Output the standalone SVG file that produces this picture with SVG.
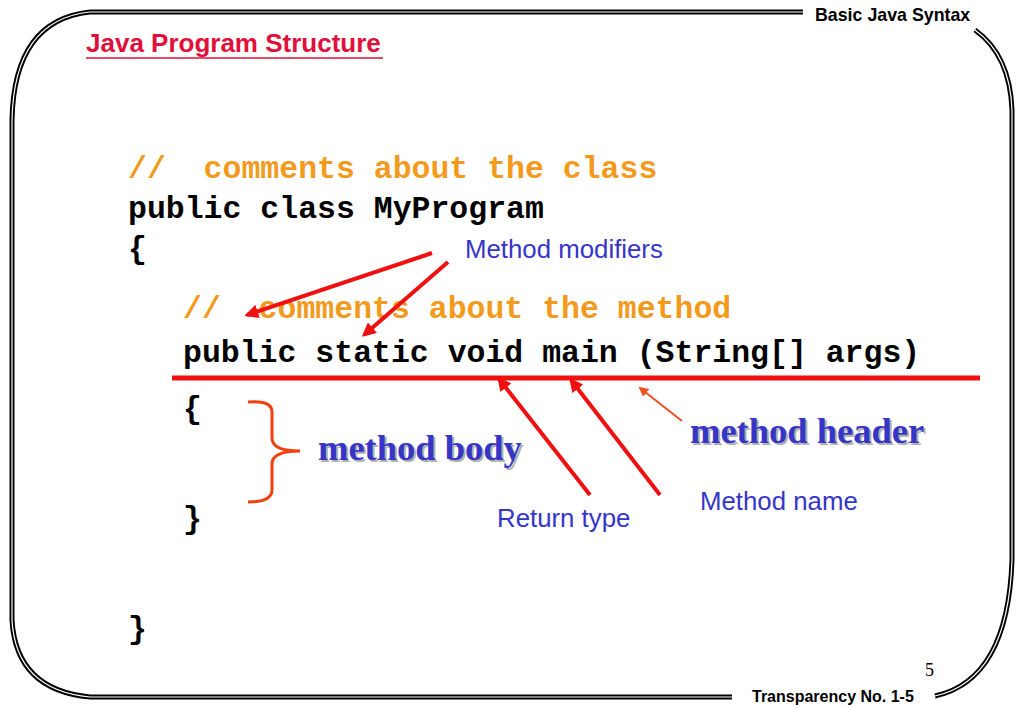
<svg xmlns="http://www.w3.org/2000/svg" width="1023" height="708" viewBox="0 0 1023 708">
<defs>
<style>
.fr{fill:none;stroke:#000;stroke-width:5}
.fr2{fill:none;stroke:#fff;stroke-width:1.2}
.code{font-family:"Liberation Mono",monospace;font-weight:bold;font-size:31.5px;fill:#000;white-space:pre}
.cm{fill:#f39a1c}
.lbl{font-family:"Liberation Sans",Arial,sans-serif;font-size:25.8px;fill:#3535c8}
.big{font-family:"Liberation Serif",serif;font-weight:bold;font-size:36.5px;fill:#3535c8}
.sh{fill:#b0b0b0}
.hd{font-family:"Liberation Sans",Arial,sans-serif;font-weight:bold;font-size:16px;fill:#000}
.ar{stroke:#f01010;stroke-width:4;fill:none}
</style>
<marker id="ah" viewBox="0 0 10 10" refX="8" refY="5" markerWidth="3.5" markerHeight="3.5" orient="auto"><path d="M0,0L10,5L0,10z" fill="#f01010"/></marker>
<marker id="ah2" viewBox="0 0 10 10" refX="8" refY="5" markerWidth="5" markerHeight="5" orient="auto"><path d="M0,0L10,5L0,10z" fill="#f05020"/></marker>
</defs>
<g id="frame">
<path class="fr" d="M803,12 H90 Q14,20 12,120 V620 Q16,690 90,697 H732"/>
<path class="fr" d="M975,30 Q1010,55 1012,110 V560 Q1008,680 935,696"/>
<path class="fr2" d="M803,12 H90 Q14,20 12,120 V620 Q16,690 90,697 H732"/>
<path class="fr2" d="M975,30 Q1010,55 1012,110 V560 Q1008,680 935,696"/>
</g>
<g id="header">
<text class="hd" x="815" y="21" style="font-size:17.8px">Basic Java Syntax</text>
<text class="hd" x="752" y="702">Transparency No. 1-5</text>
<text x="925" y="676" font-family="Liberation Serif,serif" font-size="18">5</text>
<text x="86" y="52" font-family="Liberation Sans,Arial,sans-serif" font-weight="bold" font-size="26" fill="#e0103a">Java Program Structure</text>
<line x1="86" y1="58" x2="383" y2="58" stroke="#e0103a" stroke-width="1.5"/>
</g>
<g id="code">
<text class="code cm" x="128" y="178">//  comments about the class</text>
<text class="code" x="128" y="218">public class MyProgram</text>
<text class="code" x="128" y="258">{</text>
<text class="code cm" x="183" y="318">//  comments about the method</text>
<text class="code" x="183" y="362">public static void main (String[] args)</text>
<text class="code" x="183" y="418">{</text>
<text class="code" x="183" y="528">}</text>
<text class="code" x="128" y="638">}</text>
</g>
<g id="labels">
<text class="lbl" x="465" y="258">Method modifiers</text>
<text class="lbl" x="497" y="527">Return type</text>
<text class="lbl" x="700" y="510">Method name</text>
<text class="big sh" x="320" y="462">method body</text>
<text class="big" x="318" y="460">method body</text>
<text class="big sh" x="692" y="445">method header</text>
<text class="big" x="690" y="443">method header</text>
</g>
<g id="connectors">
<line x1="172" y1="378" x2="980" y2="378" stroke="#f01010" stroke-width="5"/>
<line class="ar" x1="432" y1="253" x2="247" y2="315" marker-end="url(#ah)"/>
<line class="ar" x1="448" y1="262" x2="364" y2="335" marker-end="url(#ah)"/>
<line class="ar" x1="590" y1="495" x2="499" y2="379" marker-end="url(#ah)"/>
<line class="ar" x1="660" y1="495" x2="571" y2="380" marker-end="url(#ah)"/>
<line x1="682" y1="421" x2="640" y2="388" stroke="#f05020" stroke-width="2" marker-end="url(#ah2)"/>
<path d="M248,402 Q272,400 272,412 V438 Q272,451 300,451 Q272,451 272,464 V490 Q272,502 248,502" fill="none" stroke="#f04010" stroke-width="3"/>
</g>
</svg>
